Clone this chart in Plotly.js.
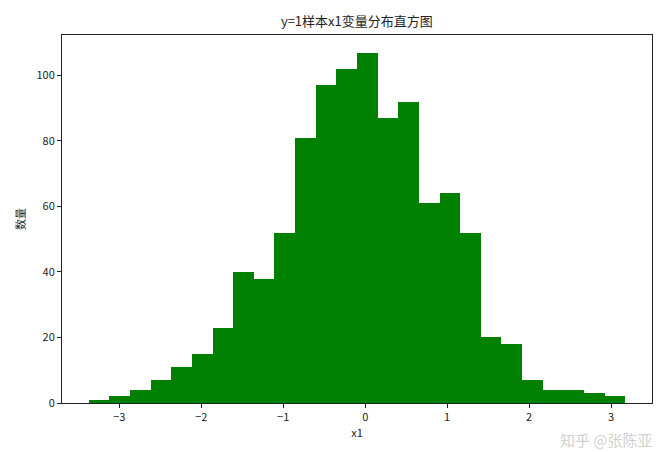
<!DOCTYPE html>
<html>
<head>
<meta charset="utf-8">
<script src="https://cdn.plot.ly/plotly-3.0.1.min.js"></script>
<style>html,body{margin:0;padding:0;background:#fff;}#chart{width:672px;height:452px;}</style>
</head>
<body>
<div id="chart"></div>
<script>
// Histogram bin counts
var binStart = -3.372;
var binWidth = 0.2517;
var counts = [1, 2, 4, 7, 11, 15, 23, 40, 38, 52, 81, 97, 102, 107, 87, 92, 61, 64, 52, 20, 18, 7, 4, 4, 3, 2];
var xTicks = [-3, -2, -1, 0, 1, 2, 3];
var xTickLabels = ['\u22123', '\u22122', '\u22121', '0', '1', '2', '3'];
var yTicks = [0, 20, 40, 60, 80, 100];

var centers = counts.map(function (c, i) { return binStart + binWidth * (i + 0.5); });

var font = '"Noto Sans CJK SC", "DejaVu Sans", sans-serif';

var trace = {
  type: 'bar',
  x: centers,
  y: counts,
  width: binWidth,
  marker: { color: '#008000', line: { width: 0 } },
  hoverinfo: 'x+y'
};

var layout = {
  width: 672,
  height: 452,
  margin: { l: 62, r: 20, t: 35, b: 49 },
  paper_bgcolor: '#fff',
  plot_bgcolor: '#fff',
  bargap: 0,
  showlegend: false,
  font: { family: font, color: '#222', size: 11 },
  title: {
    text: 'y=1样本x1变量分布直方图',
    font: { family: font, size: 13, color: '#222' },
    x: 0.531, xanchor: 'center', y: 0.952, yanchor: 'middle'
  },
  xaxis: {
    range: [-3.699, 3.499],
    tickvals: xTicks,
    ticktext: xTickLabels,
    ticks: 'outside', ticklen: 4, tickwidth: 1, tickcolor: '#222',
    showline: true, linecolor: '#222', linewidth: 1, mirror: true,
    showgrid: false, zeroline: false,
    tickfont: { family: font, size: 11, color: '#222' },
    title: { text: 'x1', font: { family: font, size: 11, color: '#222' }, standoff: 6 }
  },
  yaxis: {
    range: [0, 112.35],
    tickvals: yTicks,
    ticks: 'outside', ticklen: 4, tickwidth: 1, tickcolor: '#222',
    showline: true, linecolor: '#222', linewidth: 1, mirror: true,
    showgrid: false, zeroline: false,
    tickfont: { family: font, size: 11, color: '#222' },
    title: { text: '数量', font: { family: font, size: 11, color: '#222' }, standoff: 8 }
  },
  annotations: [{
    text: '知乎 @张陈亚',
    xref: 'paper', yref: 'paper',
    x: 1.005, y: -0.1, xanchor: 'right', yanchor: 'middle',
    showarrow: false,
    font: { family: font, size: 15, color: 'rgba(200,200,200,0.85)' }
  }]
};

Plotly.newPlot('chart', [trace], layout, { displayModeBar: false, staticPlot: true });
</script>
</body>
</html>
